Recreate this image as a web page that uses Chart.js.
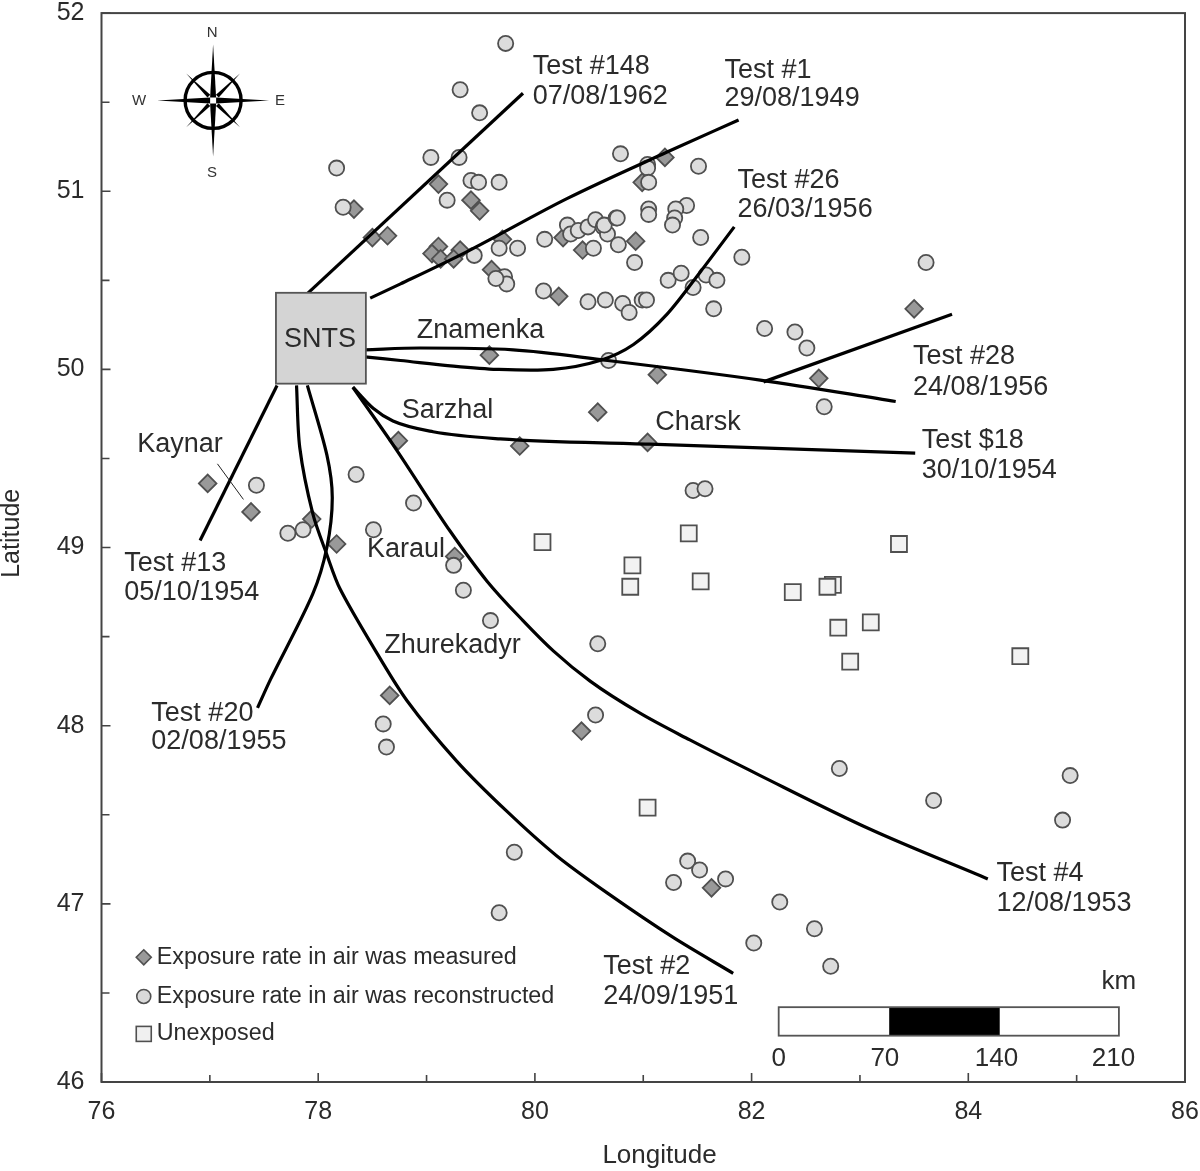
<!DOCTYPE html>
<html>
<head>
<meta charset="utf-8">
<title>SNTS fallout traces</title>
<script src="https://cdn.jsdelivr.net/npm/chart.js@4"></script>
<style>
  html, body { margin: 0; padding: 0; background: #fff; }
  #wrap { width: 1200px; height: 1171px; }
</style>
</head>
<body>
<div id="wrap"><canvas id="map" width="1200" height="1171"></canvas></div>
<script>
const measuredLon = [76.98, 77.38, 77.94, 78.17, 78.74, 79.26, 79.86, 81.04, 80.58, 81.13, 82.62, 83.50, 79.58, 80.22, 78.33, 78.50, 78.64, 79.11, 79.41, 79.49, 79.70, 80.26, 80.44, 80.93, 81.20, 80.99, 79.11, 79.05, 79.13, 79.31, 79.25, 79.60, 78.66, 80.43, 81.63];
const measuredLat = [49.36, 49.20, 49.16, 49.02, 49.60, 48.95, 49.57, 49.59, 49.76, 49.97, 49.95, 50.34, 50.08, 50.41, 50.90, 50.74, 50.75, 51.04, 50.95, 50.89, 50.73, 50.74, 50.67, 50.72, 51.19, 51.05, 50.69, 50.65, 50.62, 50.67, 50.62, 50.56, 48.17, 47.97, 47.09];

const reconLon = [79.73, 79.31, 79.49, 78.17, 78.23, 79.04, 79.30, 79.41, 79.48, 79.67, 79.19, 80.79, 81.04, 81.04, 81.05, 81.51, 81.05, 81.05, 81.40, 81.30, 81.29, 81.27, 81.53, 80.30, 80.33, 80.40, 80.49, 80.56, 80.63, 80.67, 80.64, 80.75, 80.76, 80.77, 80.54, 80.09, 79.84, 79.67, 79.44, 80.92, 81.91, 79.72, 79.74, 79.64, 80.08, 80.49, 80.65, 80.81, 80.87, 80.99, 81.03, 81.23, 81.35, 81.46, 81.58, 81.68, 81.65, 80.68, 83.61, 82.12, 82.40, 82.51, 82.67, 77.43, 77.72, 77.86, 78.35, 78.51, 78.88, 79.25, 79.34, 79.59, 80.58, 80.56, 78.60, 78.63, 81.46, 81.57, 82.81, 83.68, 84.94, 84.87, 79.81, 79.67, 81.41, 81.28, 81.52, 81.76, 82.26, 82.02, 82.58, 82.73];
const reconLat = [51.83, 51.57, 51.44, 51.13, 50.91, 51.19, 51.19, 51.06, 51.05, 51.05, 50.95, 51.21, 51.15, 51.13, 51.05, 51.14, 50.90, 50.87, 50.92, 50.90, 50.85, 50.81, 50.74, 50.81, 50.76, 50.78, 50.80, 50.84, 50.80, 50.76, 50.81, 50.85, 50.85, 50.70, 50.68, 50.73, 50.68, 50.68, 50.64, 50.60, 50.63, 50.52, 50.48, 50.51, 50.44, 50.38, 50.39, 50.37, 50.32, 50.39, 50.39, 50.50, 50.54, 50.46, 50.53, 50.50, 50.34, 50.05, 50.60, 50.23, 50.21, 50.12, 49.79, 49.35, 49.08, 49.10, 49.41, 49.10, 49.25, 48.90, 48.76, 48.59, 48.46, 48.06, 48.01, 47.88, 49.32, 49.33, 47.76, 47.58, 47.72, 47.47, 47.29, 46.95, 47.24, 47.12, 47.19, 47.14, 47.01, 46.78, 46.86, 46.65];

const unexposedLon = [80.07, 80.90, 80.88, 81.42, 81.53, 82.38, 82.75, 82.70, 83.36, 83.10, 82.80, 82.91, 84.48, 81.04];
const unexposedLat = [49.03, 48.90, 48.78, 49.08, 48.81, 48.75, 48.79, 48.78, 49.02, 48.58, 48.55, 48.36, 48.39, 47.54];

const test148Lon = [77.89, 79.89];
const test148Lat = [50.42, 51.55];
const test1Lon = [78.48, 78.76, 79.37, 80.30, 81.22, 81.88];
const test1Lat = [50.40, 50.48, 50.66, 50.96, 51.22, 51.40];
const test26Lon = [78.43, 78.76, 79.22, 79.65, 80.17, 80.60, 80.91, 81.22, 81.53, 81.84];
const test26Lat = [50.07, 50.05, 50.02, 50.00, 50.00, 50.05, 50.14, 50.31, 50.55, 50.80];
const znamenkaLon = [78.43, 78.94, 79.80, 80.67, 82.08, 83.33];
const znamenkaLat = [50.11, 50.12, 50.11, 50.05, 49.94, 49.82];
const test28Lon = [82.11, 83.85];
const test28Lat = [49.93, 50.31];
const test18Lon = [78.32, 78.51, 78.69, 79.06, 79.68, 81.06, 83.51];
const test18Lat = [49.90, 49.78, 49.71, 49.65, 49.61, 49.58, 49.53];
const test4Lon = [78.32, 78.71, 79.22, 79.56, 79.89, 80.17, 80.51, 80.97, 81.43, 82.08, 83.09, 84.18];
const test4Lat = [49.90, 49.56, 49.09, 48.81, 48.59, 48.42, 48.25, 48.07, 47.92, 47.72, 47.42, 47.14];
const test2Lon = [77.80, 77.83, 77.95, 78.08, 78.20, 78.51, 78.82, 79.28, 79.74, 80.20, 80.67, 81.28, 81.83];
const test2Lat = [49.91, 49.56, 49.19, 48.96, 48.77, 48.44, 48.14, 47.80, 47.52, 47.27, 47.06, 46.81, 46.61];
const test20Lon = [77.90, 78.08, 78.13, 78.08, 77.95, 77.56, 77.44];
const test20Lat = [49.91, 49.52, 49.28, 49.00, 48.74, 48.26, 48.10];
const test13Lon = [77.62, 76.91];
const test13Lat = [49.91, 49.04];
const kaynarLon = [77.07, 77.31];
const kaynarLat = [49.47, 49.27];

const labelTexts = ['Test #148', '07/08/1962', 'Test #1', '29/08/1949', 'Test #26', '26/03/1956', 'Znamenka', 'Test #28', '24/08/1956', 'Sarzhal', 'Charsk', 'Test $18', '30/10/1954', 'Kaynar', 'Test #13', '05/10/1954', 'Karaul', 'Zhurekadyr', 'Test #20', '02/08/1955', 'Test #4', '12/08/1953', 'Test #2', '24/09/1951'];
const labelLon = [79.98, 79.98, 81.75, 81.75, 81.87, 81.87, 78.91, 83.49, 83.49, 78.77, 81.11, 83.57, 83.57, 76.33, 76.21, 76.21, 78.45, 78.61, 76.46, 76.46, 84.26, 84.26, 80.63, 80.63];
const labelLat = [51.70, 51.53, 51.68, 51.52, 51.06, 50.90, 50.22, 50.07, 49.90, 49.77, 49.70, 49.60, 49.43, 49.58, 48.91, 48.75, 48.99, 48.45, 48.07, 47.91, 47.17, 47.00, 46.65, 46.48];

const legendLabels = ['Exposure rate in air was measured', 'Exposure rate in air was reconstructed', 'Unexposed'];
const scaleBarTicks = ['0', '70', '140', '210'];

const INK = '#2b2b2b';
const FONT = '"Liberation Sans", Arial, sans-serif';

function pts(lons, lats) { return lons.map((x, i) => ({ x, y: lats[i] })); }

function track(lons, lats, bendy) {
  const ds = { type: 'scatter', data: pts(lons, lats), showLine: true, pointRadius: 0, borderColor: '#000', borderWidth: 3.2, order: 1 };
  if (bendy) ds.tension = 0.3;
  else ds.cubicInterpolationMode = 'monotone';
  return ds;
}

function markers(lons, lats, style, radius, fill, order) {
  return { type: 'scatter', data: pts(lons, lats), pointStyle: style, pointRadius: radius, pointBackgroundColor: fill, pointBorderColor: '#505050', pointBorderWidth: 1.8, order };
}

// frame, inward ticks, box, text, compass, scale bar and legend
const mapDecor = {
  id: 'mapDecor',
  afterDatasetsDraw(chart) {
    const { ctx, chartArea: a, scales: { x, y } } = chart;
    ctx.save();

    ctx.strokeStyle = '#444';
    ctx.lineWidth = 2;
    ctx.strokeRect(a.left, a.top, a.right - a.left, a.bottom - a.top);

    ctx.lineWidth = 1.6;
    ctx.beginPath();
    y.ticks.forEach(t => {
      const p = y.getPixelForValue(t.value);
      ctx.moveTo(a.left, p);
      ctx.lineTo(a.left + (Number.isInteger(t.value) ? 9 : 8), p);
    });
    x.ticks.forEach(t => {
      const p = x.getPixelForValue(t.value);
      ctx.moveTo(p, a.bottom);
      ctx.lineTo(p, a.bottom - (t.value % 2 === 0 ? 9 : 7));
    });
    ctx.stroke();

    // thin Kaynar leader
    ctx.strokeStyle = '#222';
    ctx.lineWidth = 1;
    ctx.beginPath();
    ctx.moveTo(x.getPixelForValue(kaynarLon[0]), y.getPixelForValue(kaynarLat[0]));
    ctx.lineTo(x.getPixelForValue(kaynarLon[1]), y.getPixelForValue(kaynarLat[1]));
    ctx.stroke();

    // SNTS box
    const bx = x.getPixelForValue(77.61), bw = x.getPixelForValue(78.44) - bx;
    const by = y.getPixelForValue(50.43), bh = y.getPixelForValue(49.92) - by;
    ctx.fillStyle = '#d4d4d4';
    ctx.strokeStyle = '#555';
    ctx.lineWidth = 1.8;
    ctx.fillRect(bx, by, bw, bh);
    ctx.strokeRect(bx, by, bw, bh);

    ctx.fillStyle = INK;
    ctx.textBaseline = 'middle';
    ctx.textAlign = 'center';
    ctx.font = '27px ' + FONT;
    ctx.fillText('SNTS', bx + bw / 2 - 1, by + bh / 2 + 1);

    ctx.textAlign = 'left';
    labelTexts.forEach((t, i) => {
      ctx.fillText(t, x.getPixelForValue(labelLon[i]), y.getPixelForValue(labelLat[i]));
    });

    // axis titles sit off-centre in the original, so they are placed by hand
    ctx.textAlign = 'center';
    ctx.font = '26px ' + FONT;
    ctx.fillText('Longitude', x.getPixelForValue(81.15), a.bottom + 74);
    ctx.save();
    ctx.translate(12, y.getPixelForValue(49.08));
    ctx.rotate(-Math.PI / 2);
    ctx.font = '25px ' + FONT;
    ctx.fillText('Latitude', 0, 0);
    ctx.restore();

    drawCompass(ctx, x.getPixelForValue(77.03), y.getPixelForValue(51.51));
    drawScaleBar(ctx, x, y);
    drawLegend(ctx, x, y);
    ctx.restore();
  }
};

function drawCompass(ctx, cx, cy) {
  ctx.save();
  ctx.translate(cx, cy);
  ctx.strokeStyle = '#000';
  ctx.fillStyle = '#000';
  ctx.lineWidth = 3.4;
  ctx.beginPath();
  ctx.arc(0, 0, 28, 0, Math.PI * 2);
  ctx.stroke();

  // main needles
  for (let i = 0; i < 4; i++) {
    ctx.save();
    ctx.rotate(i * Math.PI / 2);
    ctx.beginPath();
    ctx.moveTo(0, -56);
    ctx.lineTo(3, -3);
    ctx.lineTo(-3, -3);
    ctx.closePath();
    ctx.fill();
    ctx.restore();
  }
  // diagonal needles
  for (let i = 0; i < 4; i++) {
    ctx.save();
    ctx.rotate(Math.PI / 4 + i * Math.PI / 2);
    ctx.beginPath();
    ctx.moveTo(0, -38);
    ctx.lineTo(2, -6);
    ctx.lineTo(-2, -6);
    ctx.closePath();
    ctx.fill();
    ctx.restore();
  }
  ctx.fillStyle = '#333';
  ctx.font = '15px ' + FONT;
  ctx.textAlign = 'center';
  ctx.fillText('N', -1, -68);
  ctx.fillText('S', -1, 72);
  ctx.fillText('W', -74, 0);
  ctx.fillText('E', 67, 0);
  ctx.restore();
}

function drawScaleBar(ctx, x, y) {
  const stops = [82.25, 83.27, 84.29, 85.39].map(v => x.getPixelForValue(v));
  const top = y.getPixelForValue(46.42), bottom = y.getPixelForValue(46.26);
  ctx.fillStyle = '#fff';
  ctx.fillRect(stops[0], top, stops[3] - stops[0], bottom - top);
  ctx.fillStyle = '#000';
  ctx.fillRect(stops[1], top, stops[2] - stops[1], bottom - top);
  ctx.strokeStyle = '#555';
  ctx.lineWidth = 1.8;
  ctx.strokeRect(stops[0], top, stops[3] - stops[0], bottom - top);

  ctx.fillStyle = INK;
  ctx.font = '26px ' + FONT;
  ctx.textAlign = 'center';
  const labelX = [82.25, 83.23, 84.26, 85.34].map(v => x.getPixelForValue(v));
  scaleBarTicks.forEach((t, i) => ctx.fillText(t, labelX[i], y.getPixelForValue(46.13)));
  ctx.fillText('km', x.getPixelForValue(85.39), y.getPixelForValue(46.56));
}

function drawLegend(ctx, x, y) {
  const mx = x.getPixelForValue(76.39), tx = x.getPixelForValue(76.51);
  const rows = [46.70, 46.48, 46.27].map(v => y.getPixelForValue(v));
  ctx.lineWidth = 1.6;
  ctx.strokeStyle = '#505050';

  ctx.fillStyle = '#999';
  ctx.beginPath();
  ctx.moveTo(mx, rows[0] - 7.5);
  ctx.lineTo(mx + 7.5, rows[0]);
  ctx.lineTo(mx, rows[0] + 7.5);
  ctx.lineTo(mx - 7.5, rows[0]);
  ctx.closePath();
  ctx.fill();
  ctx.stroke();

  ctx.fillStyle = '#d9d9d9';
  ctx.beginPath();
  ctx.arc(mx, rows[1], 7, 0, Math.PI * 2);
  ctx.fill();
  ctx.stroke();

  ctx.fillStyle = '#f0f0f0';
  ctx.fillRect(mx - 7.5, rows[2] - 7.5, 15, 15);
  ctx.strokeRect(mx - 7.5, rows[2] - 7.5, 15, 15);

  ctx.fillStyle = INK;
  ctx.font = '23.3px ' + FONT;
  ctx.textAlign = 'left';
  legendLabels.forEach((t, i) => ctx.fillText(t, tx, rows[i]));
}

function noLabelPadding(s) {
  s.paddingTop = s.paddingBottom = s.paddingLeft = s.paddingRight = 0;
}

new Chart(document.getElementById('map'), {
  data: {
    datasets: [
      track(test148Lon, test148Lat),
      track(test1Lon, test1Lat),
      track(test26Lon, test26Lat, true),
      track(znamenkaLon, znamenkaLat),
      track(test28Lon, test28Lat),
      track(test18Lon, test18Lat),
      track(test4Lon, test4Lat),
      track(test2Lon, test2Lat, true),
      track(test20Lon, test20Lat, true),
      track(test13Lon, test13Lat),
      markers(unexposedLon, unexposedLat, 'rect', 11.3, '#f2f2f2', 4),
      markers(reconLon, reconLat, 'circle', 7.6, '#dcdcdc', 2),
      markers(measuredLon, measuredLat, 'rectRot', 8.8, '#999', 3)
    ]
  },
  options: {
    responsive: false,
    animation: false,
    layout: { padding: { top: 11, right: 15, left: 0, bottom: 0 } },
    plugins: { legend: { display: false }, tooltip: { enabled: false } },
    scales: {
      x: {
        type: 'linear', min: 76, max: 86,
        grid: { display: false },
        border: { display: false },
        ticks: {
          stepSize: 1, autoSkip: false, maxRotation: 0, padding: 7,
          color: INK, font: { family: FONT, size: 25 },
          callback: v => (v % 2 === 0 ? String(v) : '')
        },
        afterFit(s) { s.height = 89; noLabelPadding(s); }
      },
      y: {
        type: 'linear', min: 46, max: 52,
        grid: { display: false },
        border: { display: false },
        ticks: {
          stepSize: 0.5, autoSkip: false, padding: 9,
          color: INK, font: { family: FONT, size: 25 },
          callback: v => (Number.isInteger(v) ? String(v) : '')
        },
        afterFit(s) { s.width = 101.5; noLabelPadding(s); }
      }
    }
  },
  plugins: [mapDecor]
});
</script>
</body>
</html>
